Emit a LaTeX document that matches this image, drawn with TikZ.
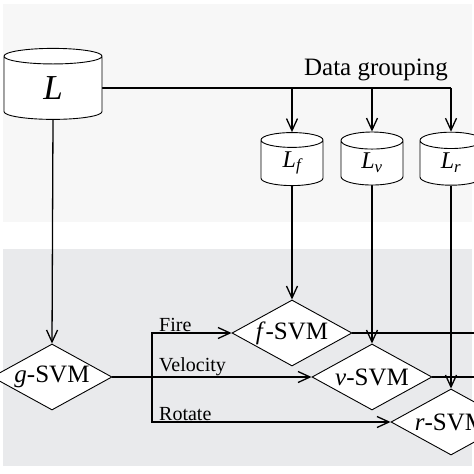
\documentclass[tikz,border=0pt]{standalone}
\usepackage{fontspec}
\setmainfont{Liberation Serif}
\usetikzlibrary{positioning}
\usetikzlibrary{arrows.meta}
\usetikzlibrary{backgrounds}
\usetikzlibrary{shapes.geometric}

\definecolor{panelTop}{RGB}{247,247,247}
\definecolor{panelBottom}{RGB}{233,234,236}

\tikzset{
  store/.style={draw, fill=white, cylinder, shape border rotate=90, aspect=0.8, line width=0.9pt, inner sep=0pt},
  svm/.style={draw, fill=white, diamond, aspect=1.8, inner sep=0pt, line width=0.9pt, minimum width=120pt, minimum height=66pt, font=\fontsize{25}{25}\selectfont},
  link/.style={line width=1.3pt},
  flow/.style={link, -{Straight Barb[length=12pt, width=11pt]}},
  tag/.style={font=\fontsize{20}{20}\selectfont, inner sep=1pt, anchor=south west},
}

\begin{document}
\begin{tikzpicture}[x=1pt, y=-1pt]

  \useasboundingbox (0, 0) rectangle (474, 474);
  \clip (0, 0) rectangle (474, 474);

  % panels
  \begin{scope}[on background layer]
    \fill [panelTop] (3, 4) rectangle (472, 222);
    \fill [panelBottom] (3, 249) rectangle (472, 466);
  \end{scope}

  % data sets
  \node at (53, 88) (L) [store, minimum width=98pt, minimum height=71pt, font=\fontsize{35}{35}\selectfont] {\textit{L}};
  \node at (292, 163) (Lf) [store, minimum width=62pt, minimum height=53pt, font=\fontsize{24}{24}\selectfont] {\textit{L\textsubscript{f}}};
  \node at (372, 163) (Lv) [store, minimum width=62pt, minimum height=53pt, font=\fontsize{24}{24}\selectfont] {\textit{L\textsubscript{v}}};
  \node at (451, 163) (Lr) [store, minimum width=62pt, minimum height=53pt, font=\fontsize{24}{24}\selectfont] {\textit{L\textsubscript{r}}};

  % classifiers
  \node at (52, 377) (g) [svm] {\textit{g}-SVM};
  \node at (292, 333) (f) [svm] {\textit{f}-SVM};
  \node at (372, 377) (v) [svm] {\textit{v}-SVM};
  \node at (451, 422) (r) [svm] {\textit{r}-SVM};

  % grouping
  \coordinate (grp) at (Lr.north |- L.east);
  \node at (376, 70) (grouping) [font=\fontsize{25}{25}\selectfont] {Data grouping};
  \begin{scope}[on background layer]
    \draw [link] (L.east) -- (grp);
  \end{scope}
  \draw [flow] (grp) -- (Lr.north);
  \draw [flow] (Lf.north |- L.east) -- (Lf.north);
  \draw [flow] (Lv.north |- L.east) -- (Lv.north);
  \draw [flow] (L.south) -- (g.north);

  % per-class training
  \begin{scope}[on background layer]
    \draw [flow] (Lf.south) -- (f.north);
    \draw [flow] (Lv.south) -- (v.north);
    \draw [flow] (Lr.south) -- (r.north);

    % outputs
    \coordinate (fout) at (480, 333);
    \coordinate (vout) at (480, 377);
    \draw [link] (f.east) -- (fout);
    \draw [link] (v.east) -- (vout);
  \end{scope}

  % dispatch
  \coordinate (branch) at (152, 377);
  \draw [flow] (g.east) -- (v.west);
  \draw [flow] (branch) |- (f.west);
  \draw [flow] (branch) |- (r.west);
  \node at ([xshift=6pt] branch |- f.west) (fire) [tag] {Fire};
  \node at ([xshift=6pt] branch) (velocity) [tag] {Velocity};
  \node at ([xshift=6pt] branch |- r.west) (rotate) [tag] {Rotate};

\end{tikzpicture}
\end{document}
